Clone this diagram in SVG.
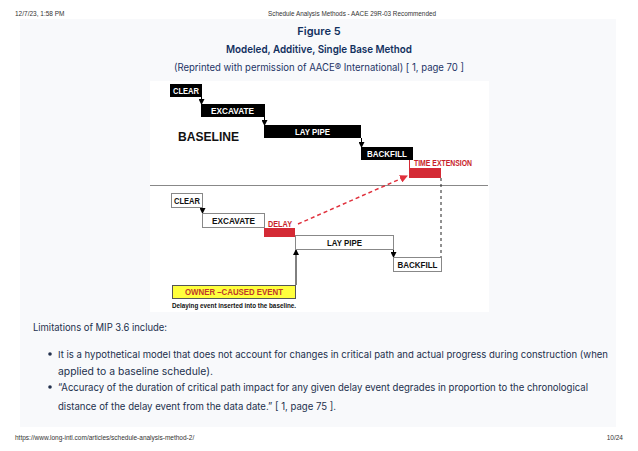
<svg xmlns="http://www.w3.org/2000/svg" width="638" height="451" viewBox="0 0 638 451">
<style>
.hdr{font-family:"Liberation Sans",Arial,sans-serif;font-size:6.5px;fill:#333}
.ttl{font-family:"Inter","Liberation Sans",Arial,sans-serif;font-weight:600;fill:#12305e;text-anchor:middle}
.body{font-family:"Inter","Liberation Sans",Arial,sans-serif;font-size:10.3px;fill:#22304d}
.lbl{font-family:"Liberation Sans",Arial,sans-serif;font-weight:bold;font-size:8.5px;text-anchor:middle}
.bk{fill:#000}
.wbox{fill:#fff;stroke:#888;stroke-width:1}
.w{fill:#fff}
.k{fill:#111}
.red{fill:#d42a35}
.redt{fill:#c81e2a}
.conn{stroke:#000;stroke-width:1;fill:none}
</style>
<defs>
<marker id="ah" viewBox="0 0 6 6" refX="5" refY="3" markerWidth="6" markerHeight="6" markerUnits="userSpaceOnUse" orient="auto"><path d="M0,0 L6,3 L0,6 z" fill="#000"/></marker>
<marker id="ahr" viewBox="0 0 8 8" refX="7" refY="4" markerWidth="8" markerHeight="8" markerUnits="userSpaceOnUse" orient="auto"><path d="M0,0 L8,4 L0,8 z" fill="#e0303c"/></marker>
</defs>
<rect width="638" height="451" fill="#fff"/>
<rect x="20" y="19" width="596" height="408" fill="#f8f9fb"/>
<text class="hdr" x="15" y="16">12/7/23, 1:58 PM</text>
<text class="hdr" x="268" y="16" textLength="168" lengthAdjust="spacingAndGlyphs">Schedule Analysis Methods - AACE 29R-03 Recommended</text>
<text class="ttl" x="319" y="35" font-size="11">Figure 5</text>
<text class="ttl" x="319" y="53" font-size="11" textLength="186" lengthAdjust="spacingAndGlyphs">Modeled, Additive, Single Base Method</text>
<text class="body" x="319" y="71" text-anchor="middle" style="fill:#1d3466" textLength="290" lengthAdjust="spacingAndGlyphs">(Reprinted with permission of AACE® International) [ 1, page 70 ]</text>
<rect x="150" y="81" width="339" height="231" fill="#fff"/>
<text x="178" y="141" font-family="Liberation Sans, Arial, sans-serif" font-weight="bold" font-size="13" fill="#111" textLength="61" lengthAdjust="spacingAndGlyphs">BASELINE</text>
<line x1="150" y1="185.5" x2="488" y2="185.5" stroke="#888" stroke-width="1"/>
<g id="connectors">
<line class="conn" x1="201.5" y1="97" x2="201.5" y2="104" marker-end="url(#ah)"/>
<line class="conn" x1="264.5" y1="117" x2="264.5" y2="125" marker-end="url(#ah)"/>
<line class="conn" x1="361.5" y1="138" x2="361.5" y2="147" marker-end="url(#ah)"/>
<line x1="409.5" y1="160" x2="409.5" y2="168" stroke="#d42a35" stroke-width="1"/>
<line class="conn" x1="202.5" y1="208" x2="202.5" y2="213" marker-end="url(#ah)"/>
<line class="conn" x1="393.5" y1="249" x2="393.5" y2="257" marker-end="url(#ah)"/>
<line class="conn" x1="296" y1="285" x2="296" y2="250" marker-end="url(#ah)"/>
<line x1="441" y1="178" x2="441" y2="257" stroke="#222" stroke-width="1" stroke-dasharray="3,3"/>
<line x1="298" y1="224" x2="407" y2="176" stroke="#e0303c" stroke-width="1.5" stroke-dasharray="4,3" marker-end="url(#ahr)"/>
</g>
<g id="base-clear"><rect class="bk" x="170" y="84" width="32" height="13"/><text class="lbl w" x="186" y="93.8" textLength="26" lengthAdjust="spacingAndGlyphs">CLEAR</text></g>
<g id="base-excavate"><rect class="bk" x="201" y="104" width="64" height="13"/><text class="lbl w" x="232.5" y="113.8" textLength="43" lengthAdjust="spacingAndGlyphs">EXCAVATE</text></g>
<g id="base-laypipe"><rect class="bk" x="264" y="125" width="97" height="13"/><text class="lbl w" x="312.5" y="134.8" textLength="35" lengthAdjust="spacingAndGlyphs">LAY PIPE</text></g>
<g id="base-backfill"><rect class="bk" x="361" y="147" width="52" height="13"/><text class="lbl w" x="387" y="156.8" textLength="40" lengthAdjust="spacingAndGlyphs">BACKFILL</text></g>
<g id="time-extension"><rect class="red" x="409" y="168" width="32" height="10"/><text class="lbl redt" x="443" y="166" stroke="#fff" stroke-width="0.3" paint-order="stroke" textLength="58" lengthAdjust="spacingAndGlyphs">TIME EXTENSION</text></g>
<g id="clear"><rect class="wbox" x="171.5" y="193.5" width="31" height="14"/><text class="lbl k" x="187" y="203.8" textLength="26" lengthAdjust="spacingAndGlyphs">CLEAR</text></g>
<g id="excavate"><rect class="wbox" x="202.5" y="213.5" width="62" height="14"/><text class="lbl k" x="233.5" y="223.8" textLength="43" lengthAdjust="spacingAndGlyphs">EXCAVATE</text></g>
<g id="delay"><rect class="red" x="264" y="228" width="31" height="9"/><text class="lbl redt" x="280" y="227" textLength="24" lengthAdjust="spacingAndGlyphs">DELAY</text></g>
<g id="laypipe"><rect class="wbox" x="295.5" y="235.5" width="98" height="14"/><text class="lbl k" x="344.5" y="245.8" textLength="35" lengthAdjust="spacingAndGlyphs">LAY PIPE</text></g>
<g id="backfill"><rect class="wbox" x="393.5" y="257.5" width="48" height="14"/><text class="lbl k" x="417.5" y="267.8" textLength="40" lengthAdjust="spacingAndGlyphs">BACKFILL</text></g>
<g id="owner"><rect x="172.5" y="285.5" width="123" height="13" fill="#ffff3c" stroke="#555" stroke-width="1"/><text class="lbl" x="234" y="295.3" font-size="9" fill="#c0392b" textLength="98" lengthAdjust="spacingAndGlyphs">OWNER –CAUSED EVENT</text></g>
<text x="172" y="308" font-family="Liberation Sans, Arial, sans-serif" font-weight="bold" font-size="7" fill="#111" textLength="124" lengthAdjust="spacingAndGlyphs">Delaying event inserted into the baseline.</text>
<text class="body" x="33" y="331" textLength="134" lengthAdjust="spacingAndGlyphs">Limitations of MIP 3.6 include:</text>
<circle cx="50" cy="354" r="1.8" fill="#22304d"/>
<circle cx="50" cy="387" r="1.8" fill="#22304d"/>
<text class="body" x="58" y="358" font-size="9.6" style="font-size:9.6px" textLength="550" lengthAdjust="spacingAndGlyphs">It is a hypothetical model that does not account for changes in critical path and actual progress during construction (when</text>
<text class="body" x="58" y="375" textLength="155" lengthAdjust="spacingAndGlyphs">applied to a baseline schedule).</text>
<text class="body" x="58" y="391" textLength="530" lengthAdjust="spacingAndGlyphs">“Accuracy of the duration of critical path impact for any given delay event degrades in proportion to the chronological</text>
<text class="body" x="58" y="410" textLength="278" lengthAdjust="spacingAndGlyphs">distance of the delay event from the data date.” [ 1, page 75 ].</text>
<text class="hdr" x="15" y="440">https://www.long-intl.com/articles/schedule-analysis-method-2/</text>
<text class="hdr" x="623" y="440" text-anchor="end">10/24</text>
</svg>
